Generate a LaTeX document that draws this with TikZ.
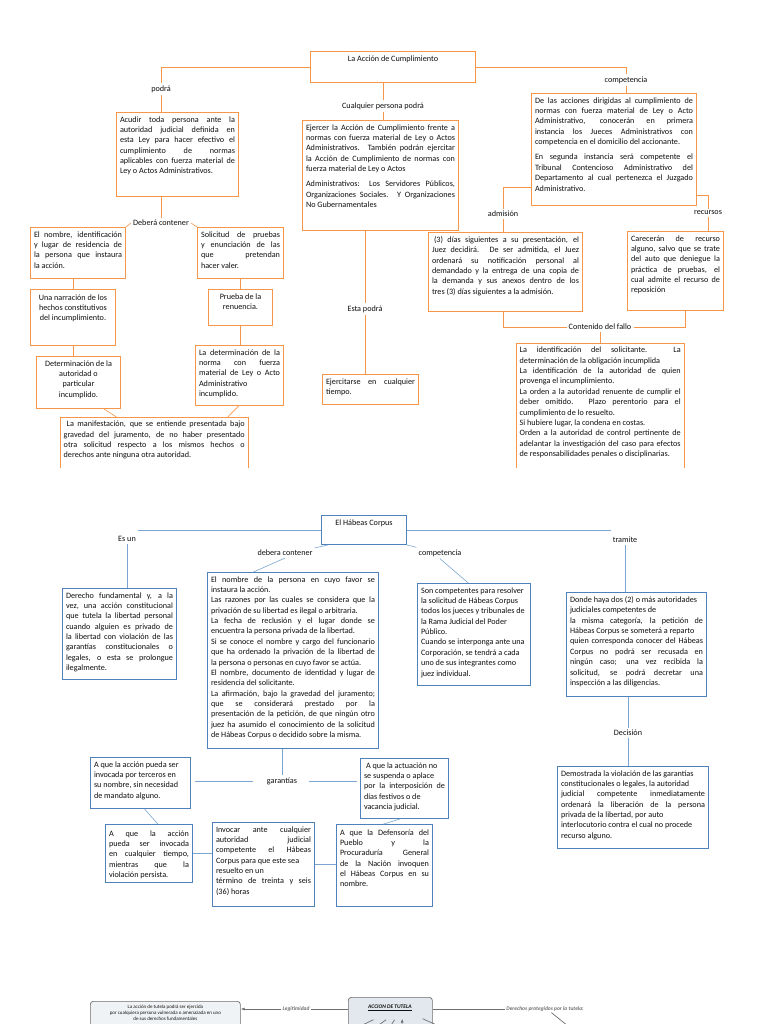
\documentclass[tikz,border=0pt]{standalone}
\usepackage{fontspec}
\setmainfont{Carlito}
\usetikzlibrary{calc,arrows.meta}
\definecolor{ora}{RGB}{245,150,75}
\definecolor{blu}{RGB}{79,129,189}
\definecolor{bluL}{RGB}{125,165,210}
\definecolor{txt}{RGB}{15,15,15}
\definecolor{tgray}{RGB}{110,110,110}
\definecolor{tfill}{RGB}{226,232,238}
\newcommand{\fs}{\fontsize{8.2}{10.4}\selectfont}
\newcommand{\tb}[3]{\begin{minipage}[c][\dimexpr #2bp-8bp\relax][t]{\dimexpr #1bp-7bp\relax}\fs\sloppy\hyphenpenalty=10000 #3\end{minipage}}
\tikzset{
 obox/.style={draw=ora, line width=1bp, inner xsep=3.5bp, inner ysep=4bp, anchor=north west, text=txt},
 ofree/.style={inner xsep=3.5bp, inner ysep=4bp, anchor=north west, text=txt},
 bbox/.style={draw=blu, line width=1bp, inner xsep=3.5bp, inner ysep=4bp, anchor=north west, text=txt},
 lab/.style={font=\fs, text=txt, inner sep=2bp},
 oln/.style={draw=ora, line width=1bp},
 bln/.style={draw=bluL, line width=1bp},
 gln/.style={draw=tgray, line width=0.7bp},
 tlab/.style={font=\fontsize{5.5}{6}\selectfont\bfseries\itshape, text=tgray, inner sep=1bp},
}
\begin{document}
\begin{tikzpicture}[x=1bp,y=-1bp]
\fill[white] (0,0) rectangle (768,1024);
\useasboundingbox (0,0) rectangle (768,1024);

% ================= La Accion de Cumplimiento =================
\node[obox] (title) at (310,51) {\tb{165}{31}{\centering La Acción de Cumplimiento}};
\node[obox] (A1) at (116,112) {\tb{122}{84}{Acudir toda persona ante la\linebreak autoridad judicial definida en\linebreak esta Ley para hacer efectivo el\linebreak cumplimiento de normas\linebreak aplicables con fuerza material de\linebreak Ley o Actos Administrativos.}};
\node[obox] (C1) at (302,120) {\tb{156}{110}{Ejercer la Acción de Cumplimiento frente a\linebreak normas con fuerza material de Ley o Actos\linebreak Administrativos. También podrán ejercitar\linebreak la Acción de Cumplimiento de normas con\linebreak fuerza material de Ley o Actos\par\vspace{5bp}Administrativos: Los Servidores Públicos,\linebreak Organizaciones Sociales. Y Organizaciones\linebreak No Gubernamentales}};
\node[obox] (R1) at (531,93) {\tb{165}{112}{De las acciones dirigidas al cumplimiento de\linebreak normas con fuerza material de Ley o Acto\linebreak Administrativo, conocerán en primera\linebreak instancia los Jueces Administrativos con\linebreak competencia en el domicilio del accionante.\par\vspace{5bp}En segunda instancia será competente el\linebreak Tribunal Contencioso Administrativo del\linebreak Departamento al cual pertenezca el Juzgado\linebreak Administrativo.}};
\node[obox] (L1) at (30,227) {\tb{95}{51}{El nombre, identificación\linebreak y lugar de residencia de\linebreak la persona que instaura\linebreak la acción.}};
\node[obox] (S1) at (197,227) {\tb{86}{51}{Solicitud de pruebas\linebreak y enunciación de las\linebreak que pretendan\linebreak hacer valer.}};
\node[obox] (AD) at (428,232) {\tb{154}{79}{\hspace*{2bp}(3) días siguientes a su presentación, el\linebreak Juez decidirá. De ser admitida, el Juez\linebreak ordenará su notificación personal al\linebreak demandado y la entrega de una copia de\linebreak la demanda y sus anexos dentro de los\linebreak tres (3) días siguientes a la admisión.}};
\node[obox] (RC) at (627,231) {\tb{96}{79}{Carecerán de recurso\linebreak alguno, salvo que se trate\linebreak del auto que deniegue la\linebreak práctica de pruebas, el\linebreak cual admite el recurso de\linebreak reposición}};
\node[obox] (L2) at (30,289) {\tb{85}{56}{\centering\vspace*{1bp}Una narración de los\\ hechos constitutivos\\ del incumplimiento.}};
\node[obox] (PR) at (208,289) {\tb{64}{36}{\centering Prueba de la\\ renuencia.}};
\node[obox] (L3) at (36,356) {\tb{84}{52}{\centering Determinación de la\\ autoridad o\\ particular\\ incumplido.}};
\node[obox] (DT) at (195,345) {\tb{88}{60}{La determinación de la\linebreak norma con fuerza\linebreak material de Ley o Acto\linebreak Administrativo\\ incumplido.}};
\node[obox] (E) at (322,374) {\tb{96}{30}{Ejercitarse en cualquier\linebreak tiempo.}};
\node[ofree] (F) at (516,343) {\tb{168}{125}{La identificación del solicitante. La\linebreak determinación de la obligación incumplida\par La identificación de la autoridad de quien\linebreak provenga el incumplimiento.\par La orden a la autoridad renuente de cumplir el\linebreak deber omitido. Plazo perentorio para el\linebreak cumplimiento de lo resuelto.\par Si hubiere lugar, la condena en costas.\par Orden a la autoridad de control pertinente de\linebreak adelantar la investigación del caso para efectos\linebreak de responsabilidades penales o disciplinarias.}};
\draw[oln] (F.south west) -- (F.north west) -- (F.north east) -- (F.south east);
\node[ofree] (M) at (60,417) {\tb{188}{51}{\hspace*{3bp}La manifestación, que se entiende presentada bajo\linebreak gravedad del juramento, de no haber presentado\linebreak otra solicitud respecto a los mismos hechos o\linebreak derechos ante ninguna otra autoridad.}};
\draw[oln] (M.south west) -- (M.north west) -- (M.north east) -- (M.south east);

\node[lab] (podra) at (161,89) {podrá};
\node[lab] (cpp) at (383,106) {Cualquier persona podrá};
\node[lab] (comp) at (626,80) {competencia};
\node[lab] (deb) at (161,223) {Deberá contener};
\node[lab] (adm) at (503,214) {admisión};
\node[lab] (rec) at (708,213) {recursos};
\node[lab] (esta) at (365,309) {Esta podrá};
\node[lab] (cont) at (600,327) {Contenido del fallo};

\draw[oln] (title.west) -| (podra.north);
\draw[oln] (podra.south) -- (A1.north -| podra.south);
\draw[oln] (title.south -| cpp.north) -- (cpp.north);
\draw[oln] (cpp.south) -- (C1.north -| cpp.south);
\draw[oln] (title.east) -| (comp.north);
\draw[oln] (comp.south) -- (R1.north -| comp.south);
\draw[oln] (A1.south -| deb.north) -- (deb.north);
\draw[oln, line width=0.6bp] (deb.west) -- (L1.north east);
\draw[oln, line width=0.6bp] (deb.east) -- (S1.north west);
\draw[oln] (L1.south -| L2.north) -- (L2.north);
\draw[oln] (L2.south) -- (L2.south |- L3.north);
\draw[oln] (S1.south -| PR.north) -- (PR.north);
\draw[oln] (PR.south) -- (PR.south |- DT.north);
\draw[oln, line width=0.6bp] ($(L3.south west)!0.8!(L3.south east)$) -- ($(M.north west)!0.3!(M.north east)$);
\draw[oln, line width=0.6bp] ($(DT.south west)!0.49!(DT.south east)$) -- ($(M.north west)!0.89!(M.north east)$);
\draw[oln] (C1.south -| esta.north) -- (esta.north);
\draw[oln] (esta.south) -- (E.north -| esta.south);
\draw[oln] ($(R1.south west)+(0,-19)$) -| (adm.north);
\draw[oln] (adm.south) -- (AD.north -| adm.south);
\draw[oln] ($(R1.south east)+(0,-11)$) -| (rec.north);
\draw[oln] (rec.south) -- (RC.north -| rec.south);
\draw[oln] (AD.south -| adm.south) |- (cont.west);
\draw[oln] ($(RC.south west)!0.6!(RC.south east)$) |- (cont.east);
\draw[oln] (cont.south) -- (F.north -| cont.south);

% ================= El Habeas Corpus =================
\node[bbox] (HC) at (321,515) {\tb{85}{29}{\centering El Hábeas Corpus}};
\node[bbox] (DF) at (62,588) {\tb{114}{91}{Derecho fundamental y, a la\linebreak vez, una acción constitucional\linebreak que tutela la libertad personal\linebreak cuando alguien es privado de\linebreak la libertad con violación de las\linebreak garantías constitucionales o\linebreak legales, o esta se prolongue\linebreak ilegalmente.}};
\node[bbox] (DC) at (207,572) {\tb{171}{176}{El nombre de la persona en cuyo favor se\linebreak instaura la acción.\par Las razones por las cuales se considera que la\linebreak privación de su libertad es ilegal o arbitraria.\par La fecha de reclusión y el lugar donde se\linebreak encuentra la persona privada de la libertad.\par Si se conoce el nombre y cargo del funcionario\linebreak que ha ordenado la privación de la libertad de\linebreak la persona o personas en cuyo favor se actúa.\par El nombre, documento de identidad y lugar de\linebreak residencia del solicitante.\par La afirmación, bajo la gravedad del juramento;\linebreak que se considerará prestado por la\linebreak presentación de la petición, de que ningún otro\linebreak juez ha asumido el conocimiento de la solicitud\linebreak de Hábeas Corpus o decidido sobre la misma.}};
\node[bbox] (CP) at (417,583) {\tb{113}{102}{Son competentes para resolver\\ la solicitud de Hábeas Corpus\\ todos los jueces y tribunales de\\ la Rama Judicial del Poder\\ Público.\par Cuando se interponga ante una\\ Corporación, se tendrá a cada\\ uno de sus integrantes como\\ juez individual.}};
\node[bbox] (T) at (566,592) {\tb{140}{104}{Donde haya dos (2) o más autoridades\\ judiciales competentes de\\ la misma categoría, la petición de\linebreak Hábeas Corpus se someterá a reparto\\ quien corresponda conocer del Hábeas\linebreak Corpus no podrá ser recusada en\linebreak ningún caso; una vez recibida la\linebreak solicitud, se podrá decretar una\linebreak inspección a las diligencias.}};
\node[bbox] (DEC) at (557,766) {\tb{151}{82}{Demostrada la violación de las garantías\\ constitucionales o legales, la autoridad\\ judicial competente inmediatamente\linebreak ordenará la liberación de la persona\linebreak privada de la libertad, por auto\\ interlocutorio contra el cual no procede\\ recurso alguno.}};
\node[bbox] (G1) at (90,757) {\tb{100}{51}{A que la acción pueda ser\\ invocada por terceros en\\ su nombre, sin necesidad\\ de mandato alguno.}};
\node[bbox] (G2) at (360,758) {\tb{88}{60}{\hspace*{2bp}A que la actuación no\\ se suspenda o aplace\\ por la interposición de\linebreak días festivos o de\\ vacancia judicial.}};
\node[bbox] (G3) at (105,824) {\tb{87}{58}{\vspace*{2bp}A que la acción\linebreak pueda ser invocada\linebreak en cualquier tiempo,\linebreak mientras que la\linebreak violación persista.}};
\node[bbox] (G4) at (212,822) {\tb{102}{84}{Invocar ante cualquier\linebreak autoridad judicial\linebreak competente el Hábeas\linebreak Corpus para que este sea\\ resuelto en un\\ término de treinta y seis\linebreak (36) horas}};
\node[bbox] (G5) at (336,824) {\tb{96}{82}{\vspace*{1bp}A que la Defensoría del\linebreak Pueblo y la\linebreak Procuraduría General\linebreak de la Nación invoquen\linebreak el Hábeas Corpus en su\linebreak nombre.}};

\node[lab] (esun) at (127,539) {Es un};
\node[lab] (dcl) at (285,553) {debera contener};
\node[lab] (cpl) at (440,553) {competencia};
\node[lab] (tram) at (625,540) {tramite};
\node[lab] (decl) at (628,733) {Decisión};
\node[lab] (gar) at (282,781) {garantías};

\draw[bln] (HC.west) -- (esun.east |- HC.west);
\draw[bln] (esun.south) -- (DF.north -| esun.south);
\draw[bln] (HC.east) -- (tram.west |- HC.east);
\draw[bln] (tram.south) -- (T.north -| tram.south);
\draw[bln, line width=0.6bp] ($(HC.south west)!0.08!(HC.south east)$) -- (dcl.north east);
\draw[bln, line width=0.6bp] (dcl.south) -- ($(DC.north west)!0.27!(DC.north east)$);
\draw[bln, line width=0.6bp] (HC.south east) -- (cpl.north west);
\draw[bln, line width=0.6bp] (cpl.south) -- ($(CP.north west)!0.45!(CP.north east)$);
\draw[bln] (T.south -| decl.north) -- (decl.north);
\draw[bln] (decl.south) -- (DEC.north -| decl.south);
\draw[bln] (DC.south -| gar.north) -- (gar.north);
\draw[bln, shorten <=12bp, shorten >=4bp] (gar.west) -- (G1.east |- gar.west);
\draw[bln, shorten <=10bp, shorten >=3bp] (gar.east) -- (G2.west |- gar.east);
\draw[bln, line width=0.6bp] ($(G1.south west)!0.54!(G1.south east)$) -- ($(G3.north west)!0.6!(G3.north east)$);
\draw[bln] (G3.east) -- (G4.west |- G3.east);
\draw[bln] (G4.east) -- (G5.west |- G4.east);
\draw[bln, line width=0.6bp] ($(G2.south west)!0.45!(G2.south east)$) -- ($(G5.north west)!0.49!(G5.north east)$);

% ================= Accion de tutela (cut off) =================
\node[draw=tgray, fill=tfill, rounded corners=3bp, minimum width=84bp, minimum height=34bp, anchor=north west, line width=0.7bp] (tut) at (348,997) {};
\node[font=\fontsize{5.5}{6}\selectfont\bfseries\itshape, text=txt] (tutt) at (390,1008) {\underline{ACCION DE TUTELA}};
\node[draw=tgray, fill=tfill!50, rounded corners=3bp, anchor=north west, line width=0.7bp, inner sep=1.5bp, align=center, font=\fontsize{5}{6}\selectfont, text=txt, minimum width=150bp, minimum height=30bp] (lbox) at (90,1001) {La acción de tutela podrá ser ejercida\\ por cualquiera persona vulnerada o amenazada en uno\\ de sus derechos fundamentales\\ \strut};
\node[tlab] (legit) at (296,1009) {Legitimidad};
\node[tlab] (der) at (545,1009) {Derechos protegidos por la tutela:};
\draw[gln, -{Latex[length=4bp,width=3bp]}] (legit.west) -- (lbox.east |- legit.west);
\draw[gln] (tut.west |- legit.east) -- (legit.east);
\draw[gln] (tut.east |- der.west) -- (der.west);
\coordinate (d1) at (568,1026);
\draw[gln] ($(der.south west)!0.58!(der.south east)$) -- (d1);
\coordinate (b1) at (318,1030);
\coordinate (b2) at (352,1030);
\coordinate (b3) at (372,1030);
\coordinate (b4) at (388,1030);
\coordinate (b5) at (448,1030);
\draw[gln] ($(tut.south west)!0.05!(tut.north west)$) -- (b1);
\draw[gln] ($(tut.south west)!0.3!(tut.south east)+(0,-12)$) -- (b2);
\draw[gln] ($(tut.south west)!0.45!(tut.south east)+(0,-12)$) -- (b3);
\draw[gln] ($(tut.south west)!0.55!(tut.south east)+(0,-12)$) -- (b4);
\draw[gln, -{Latex[length=4bp,width=3bp]}] (402,1030) -- ($(tut.south west)!0.64!(tut.south east)+(0,-13)$);
\draw[gln] ($(tut.south west)!0.88!(tut.south east)+(0,-13)$) -- (b5);
\end{tikzpicture}
\end{document}
